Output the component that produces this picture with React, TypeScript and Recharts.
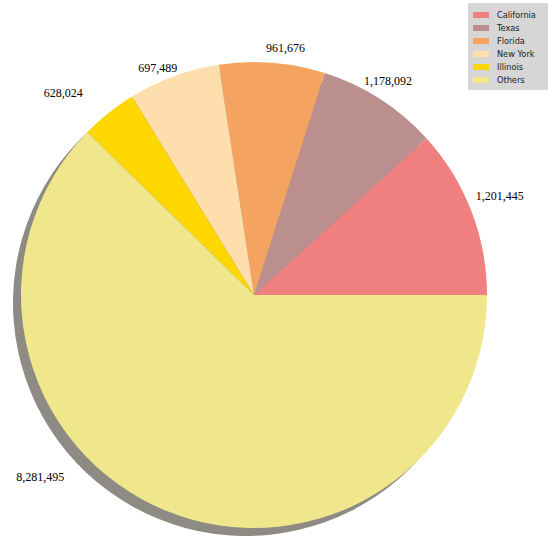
import { PieChart, Pie, Cell, Legend } from 'recharts';

const states = ['California', 'Texas', 'Florida', 'New York', 'Illinois', 'Others'];
const labelValues = [1201445, 1178092, 961676, 697489, 628024, 8281495];
// wedge sizes as they appear in the picture (degrees of the circle)
const sliceDegrees = [42.2, 30.1, 26.4, 22.9, 14.1, 224.3];
const colors = ['#F08080', '#BC8F8F', '#F4A460', '#FFDEAD', '#FFD700', '#F0E68C'];

const data = states.map((name, i) => ({ name, share: sliceDegrees[i], label: labelValues[i] }));

// label nudges (angle offset from wedge middle, distance as fraction of radius)
const labelShift = [3, 5.6, 1.7, -1.5, 1.6, -24];
const labelDist = [1.043, 1.034, 1.06, 1.03, 1.137, 1.129];

const RADIAN = Math.PI / 180;

const renderLabel = (props: any) => {
    const { cx, cy, midAngle, outerRadius, index } = props;
    const a = (midAngle + labelShift[index]) * RADIAN;
    const r = outerRadius * labelDist[index];
    const x = cx + r * Math.cos(a);
    const y = cy - r * Math.sin(a);
    return (
        <text
            x={x}
            y={y}
            textAnchor={x > cx ? 'start' : 'end'}
            dominantBaseline="central"
            fill="#000"
            style={{ fontFamily: '"Liberation Serif", "Times New Roman", serif', fontSize: 12 }}
        >
            {data[index].label.toLocaleString('en-US')}
        </text>
    );
};

const renderLegend = () => (
    <div style={{ background: '#d6d6d6', padding: '5px 6px 4px 5px', width: 69, boxSizing: 'content-box' }}>
        {states.map((s, i) => (
            <div key={s} style={{ display: 'flex', alignItems: 'center', height: 13 }}>
                <span style={{ width: 16, height: 6, background: colors[i], marginRight: 8, flex: 'none' }} />
                <span style={{ fontFamily: '"DejaVu Sans", sans-serif', fontSize: 8.2, color: '#222' }}>{s}</span>
            </div>
        ))}
    </div>
);

export default function App() {
    return (
        <div style={{ position: 'absolute', left: 0, top: 0, width: 550, height: 549, background: '#fff' }}>
            <PieChart width={550} height={549} margin={{ top: 0, right: 0, bottom: 0, left: 0 }}>
                {/* drop shadow */}
                <Pie
                    data={data}
                    dataKey="share"
                    cx={246}
                    cy={303}
                    outerRadius={233}
                    startAngle={0}
                    endAngle={360}
                    stroke="none"
                    fill="#8d8b83"
                    isAnimationActive={false}
                    legendType="none"
                />
                <Pie
                    data={data}
                    dataKey="share"
                    cx={254}
                    cy={295}
                    outerRadius={233}
                    startAngle={0}
                    endAngle={360}
                    stroke="none"
                    label={renderLabel}
                    labelLine={false}
                    isAnimationActive={false}
                >
                    {data.map((d, i) => (
                        <Cell key={d.name} fill={colors[i]} />
                    ))}
                </Pie>
                <Legend
                    content={renderLegend}
                    layout="vertical"
                    align="right"
                    verticalAlign="top"
                    wrapperStyle={{ top: 3, right: 2, left: 'auto', width: 'auto' }}
                />
            </PieChart>
        </div>
    );
}
